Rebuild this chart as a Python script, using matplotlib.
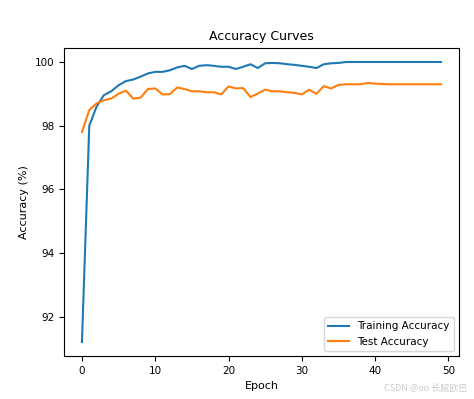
import numpy as np
import matplotlib
matplotlib.use('Agg')
import matplotlib.pyplot as plt

plt.rcParams['font.family'] = ['Liberation Sans Narrow', 'DejaVu Sans', 'Noto Sans CJK SC']

epochs = list(range(50))

# accuracy values (%)
train_acc = [91.2, 98.0, 98.6, 98.96, 99.08, 99.27, 99.4, 99.45, 99.54, 99.64,
             99.69, 99.69, 99.74, 99.83, 99.88, 99.78, 99.88, 99.9, 99.88, 99.85,
             99.85, 99.78, 99.85, 99.93, 99.81, 99.96, 99.97, 99.96, 99.93, 99.91,
             99.88, 99.85, 99.81, 99.93, 99.96, 99.97, 100.0, 100.0, 100.0, 100.0,
             100.0, 100.0, 100.0, 100.0, 100.0, 100.0, 100.0, 100.0, 100.0, 100.0]
test_acc = [97.8, 98.49, 98.7, 98.8, 98.85, 99.0, 99.1, 98.85, 98.88, 99.15,
            99.17, 98.98, 98.99, 99.2, 99.15, 99.08, 99.08, 99.05, 99.05, 98.98,
            99.23, 99.17, 99.18, 98.9, 99.01, 99.13, 99.08, 99.08, 99.05, 99.03,
            98.98, 99.13, 99.0, 99.24, 99.17, 99.28, 99.3, 99.3, 99.3, 99.34,
            99.32, 99.31, 99.3, 99.3, 99.3, 99.3, 99.3, 99.3, 99.3, 99.3]

fig = plt.figure(figsize=(4.74, 3.99), dpi=100)
ax = fig.add_axes([64/474, 1 - 356/399, (459-64)/474, (356-48)/399])

ax.plot(epochs, train_acc, color='#1f77b4', lw=1.5, label='Training Accuracy')
ax.plot(epochs, test_acc, color='#ff7f0e', lw=1.5, label='Test Accuracy')

ax.set_title('Accuracy Curves', fontsize=9)
ax.set_xlabel('Epoch', fontsize=8)
ax.set_ylabel('Accuracy (%)', fontsize=8, family='DejaVu Sans')
ax.tick_params(labelsize=7.5)
ax.set_xticks([0, 10, 20, 30, 40, 50])
ax.set_yticks([92, 94, 96, 98, 100])
ax.legend(loc='lower right', fontsize=7.5)

fig.text(0.985, 0.015, 'CSDN @oo 长腿欧巴', ha='right', va='bottom',
         fontsize=6.5, color='#cccccc', family=['Noto Sans CJK SC', 'DejaVu Sans'])

fig.savefig('out.png', dpi=100)
